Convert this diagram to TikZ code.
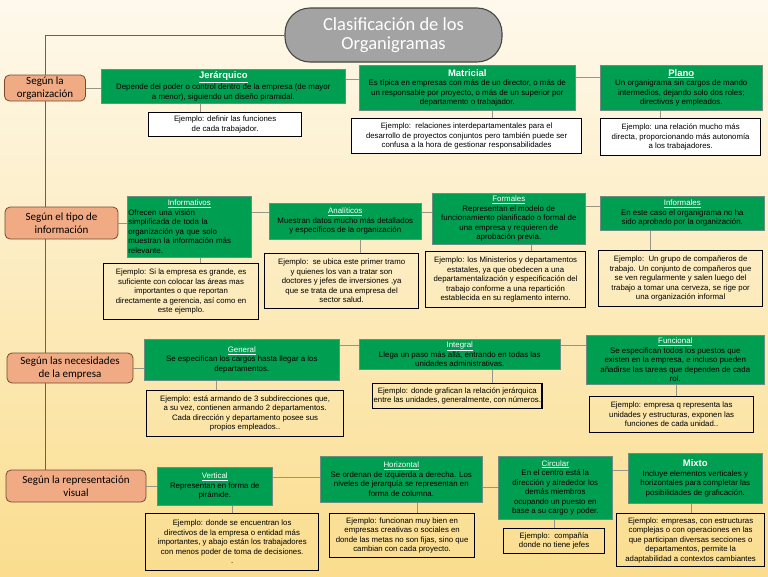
\documentclass[tikz,border=0pt]{standalone}
\usepackage{fontspec}
\setmainfont{Liberation Sans}
\newfontfamily\calibfont{Carlito}
\usepackage{tikz}
\usetikzlibrary{positioning,calc}
\definecolor{bgtop}{RGB}{254,249,236}
\definecolor{bgbot}{RGB}{250,221,142}
\definecolor{kindgreen}{RGB}{0,158,80}
\definecolor{kindedge}{RGB}{110,140,130}
\definecolor{sortfill}{RGB}{240,170,132}
\definecolor{sortedge}{RGB}{120,75,45}
\definecolor{headfill}{RGB}{163,163,163}
\definecolor{headedge}{RGB}{70,70,70}
\definecolor{linkgray}{RGB}{150,150,135}
\tikzset{
  headbox/.style={draw=headedge, line width=1.1pt, fill=headfill, rounded corners=25pt,
                  minimum width=217pt, minimum height=54pt, align=center, text=white,
                  font=\calibfont\fontsize{18.5}{19}\selectfont},
  sortbox/.style={draw=sortedge, line width=0.8pt, fill=sortfill, rounded corners=5pt,
                  align=center, inner sep=1pt, font=\calibfont\fontsize{11}{12.5}\selectfont},
  kindbox/.style={draw=kindedge, line width=0.6pt, fill=kindgreen, anchor=north west,
                  inner sep=1pt, align=center, font=\fontsize{7.9}{9.5}\selectfont},
  casebox/.style={draw=black, line width=1.2pt, anchor=north west,
                  inner sep=1pt, align=center, font=\fontsize{7.8}{9.5}\selectfont},
  spine/.style={draw=headedge!85, line width=0.8pt},
  link/.style={draw=linkgray, line width=0.8pt},
}
\newcommand\kindU[1]{\textcolor{white}{\fontsize{9.5}{10}\selectfont\bfseries\underline{#1}}}
\newcommand\kindB[1]{\textcolor{white}{\fontsize{9.5}{10}\selectfont\bfseries #1}}
\newcommand\kindS[1]{\textcolor{white}{\underline{#1}}}

\begin{document}
\begin{tikzpicture}[x=1pt,y=-1pt]
\shade[top color=bgtop, bottom color=bgbot] (0,0) rectangle (768,576);
\useasboundingbox (0,0) rectangle (768,576);

% title and the four criteria
\node[headbox] (tit) at (393.5,35) {Clasificación de los\\Organigramas};
\node[sortbox, minimum width=81pt, minimum height=26pt] (cat1) at (45,88) {Según la\\organización};
\node[sortbox, minimum width=113pt, minimum height=32pt] (cat2) at (61.5,223) {Según el tipo de\\información};
\node[sortbox, minimum width=126pt, minimum height=30pt] (cat3) at (70,368) {Según las necesidades\\de la empresa};
\node[sortbox, minimum width=140pt, minimum height=32pt] (cat4) at (76,486) {Según la representación\\visual};

% green boxes
\foreach \n/\lx/\ly/\w/\h/\hd/\tx in {
  jer/101/69/244/34/{\kindU{Jerárquico}}/{Depende del poder o control dentro de la empresa (de mayor\\a menor), siguiendo un diseño piramidal.},
  mat/359/65/216/45/{\kindB{Matricial}}/{Es típica en empresas con más de un director, o más de\\un responsable por proyecto, o más de un superior por\\departamento o trabajador.},
  pla/600/65/162/45/{\kindU{Plano}}/{Un organigrama sin cargos de mando\\intermedios, dejando solo dos roles;\\directivos y empleados.},
  ana/269/203/152/36/{\kindS{Analíticos}}/{Muestran datos mucho más detallados\\y específicos de la organización},
  for/432/193/153/51/{\kindS{Formales}}/{Representan el modelo de\\funcionamiento planificado o formal de\\una empresa y requieren de\\aprobación previa.},
  inf/600/196/164/34/{\kindS{Informales}}/{En este caso el organigrama no ha\\sido aprobado por la organización.},
  gen/144/339/195/41/{\kindS{General}}/{Se especifican los cargos hasta llegar a los\\departamentos.},
  int/359/339/201/30/{\kindS{Integral}}/{Llega un paso más allá, entrando en todas las\\unidades administrativas.},
  fun/586/335/178/49/{\kindS{Funcional}}/{Se especifican todos los puestos que\\existen en la empresa, e incluso pueden\\añadirse las tareas que dependen de cada\\rol.},
  ver/157/467/115/38/{\kindS{Vertical}}/{Representan en forma de\\pirámide.},
  hor/320/456/162/46/{\kindS{Horizontal}}/{Se ordenan de izquierda a derecha. Los\\niveles de jerarquía se representan en\\forma de columna.},
  cir/498/456/114/63/{\kindS{Circular}}/{En el centro está la\\dirección y alrededor los\\demás miembros\\ocupando un puesto en\\base a su cargo y poder.},
  mix/628/453/134/50/{\kindB{Mixto}}/{Incluye elementos verticales y\\horizontales para completar las\\posibilidades de graficación.}}
  \node[kindbox, minimum width=\w pt, minimum height=\h pt] (\n) at (\lx,\ly) {\hd\\\tx};
\node[kindbox, align=left, text width=122pt, minimum height=61pt] (info) at (127,196)
  {\makebox[\linewidth]{\kindS{Informativos}}\\Ofrecen una visión\\simplificada de toda la\\organización ya que solo\\muestran la información más\\relevante.};

% examples
\foreach \n/\lx/\ly/\w/\h/\f/\tx in {
  jerex/148/112/153/24/white/{Ejemplo: definir las funciones\\de cada trabajador.},
  matex/351/118/230/35/white/{Ejemplo:\ \ relaciones interdepartamentales para el\\desarrollo de proyectos conjuntos pero también puede ser\\confusa a la hora de gestionar responsabilidades},
  plaex/600/118/160/37/white/{Ejemplo: una relación mucho más\\directa, proporcionando más autonomía\\a los trabajadores.},
  infoex/103/263/155/56/none/{Ejemplo: Si la empresa es grande, es\\suficiente con colocar las áreas mas\\importantes o que reportan\\directamente a gerencia, así como en\\este ejemplo.},
  anaex/264/253/154/55/none/{Ejemplo:\ \ se ubica este primer tramo\\y quienes los van a tratar son\\doctores y jefes de inversiones ,ya\\que se trata de una empresa del\\sector salud.},
  forex/425/251/160/56/none/{Ejemplo: los Ministerios y departamentos\\estatales, ya que obedecen a una\\departamentalización y especificación del\\trabajo conforme a una repartición\\establecida en su reglamento interno.},
  infex/598/250/164/56/none/{Ejemplo:\ \ Un grupo de compañeros de\\trabajo. Un conjunto de compañeros que\\se ven regularmente y salen luego del\\trabajo a tomar una cerveza, se rige por\\una organización informal},
  genex/146/390/197/46/none/{Ejemplo: está armando de 3 subdirecciones que,\\a su vez, contienen armando 2 departamentos.\\Cada dirección y departamento posee sus\\propios empleados..},
  intex/372/383/169/25/none/{Ejemplo: donde grafican la relación jerárquica\\entre las unidades, generalmente, con números.},
  funex/589/396/164/36/none/{Ejemplo: empresa q representa las\\unidades y estructuras, exponen las\\funciones de cada unidad..},
  verex/145/513/173/57/none/{Ejemplo: donde se encuentran los\\directivos de la empresa o entidad más\\importantes, y abajo están los trabajadores\\con menos poder de toma de decisiones.\\.},
  horex/329/513/145/44/none/{Ejemplo: funcionan muy bien en\\empresas creativas o sociales en\\donde las metas no son fijas, sino que\\cambian con cada proyecto.},
  cirex/503/528/101/25/none/{Ejemplo:\ \ compañía\\donde no tiene jefes},
  mixex/616/513/148/53/none/{Ejemplo: empresas, con estructuras\\complejas o con operaciones en las\\que participan diversas secciones o\\departamentos, permite la\\adaptabilidad a contextos cambiantes}}
  \node[casebox, fill=\f, minimum width=\w pt, minimum height=\h pt] (\n) at (\lx,\ly) {\tx};

% spine from the title down the left side
\coordinate (spinetop) at (45,35);
\draw[spine] (tit.west) -- (spinetop) -- (spinetop |- cat1.north);
\foreach \a/\b in {cat1/cat2,cat2/cat3,cat3/cat4}
  \draw[spine] (\a.south -| spinetop) -- (\b.north -| spinetop);

% links along each row
\foreach \a/\b/\ly in {cat1/jer/88, jer/mat/79, mat/pla/77, cat2/info/223, info/ana/212,
    ana/for/212, for/inf/206, cat3/gen/368, gen/int/345, int/fun/345,
    cat4/ver/486, ver/hor/477, hor/cir/487, cir/mix/470}
  \draw[link] let \p1=(\a.east), \p2=(\b.west) in (\x1,-\ly pt) -- (\x2,-\ly pt);

% links down to the examples
\foreach \a/\b/\lx in {jer/jerex/200, mat/matex/492, pla/plaex/660, info/infoex/200,
    ana/anaex/360, for/forex/531, inf/infex/650, gen/genex/216, int/intex/492,
    fun/funex/676, ver/verex/232, hor/horex/417, cir/cirex/554, mix/mixex/691}
  \draw[link] let \p1=(\a.south), \p2=(\b.north) in (\lx pt,\y1) -- (\lx pt,\y2);
\end{tikzpicture}
\end{document}
